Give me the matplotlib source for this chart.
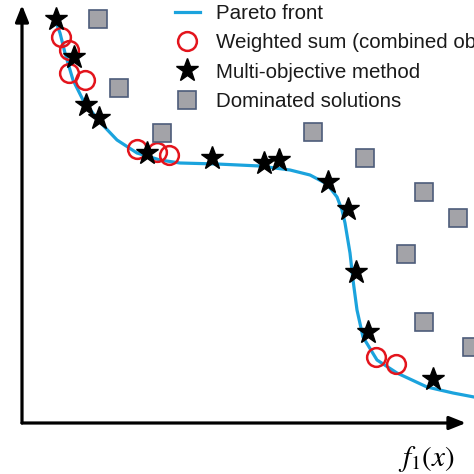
import matplotlib.pyplot as plt

plt.rcParams['font.family'] = ['Liberation Sans', 'DejaVu Sans']
plt.rcParams['mathtext.fontset'] = 'stix'

# Pareto front (f1, f2)
front_f1 = [3.5, 3.8, 4.3, 5.1, 6.1, 7.6, 9.5, 11.5, 13.8, 15.8, 19.5, 23.8, 26.8, 28.8,
            30.5, 31.5, 32.0, 32.3, 32.8, 33.1, 33.5, 34.1, 35.5, 37.5, 40.5, 43.1, 45.2, 46.8]
front_f2 = [39.8, 39.0, 37.0, 34.3, 32.3, 30.3, 28.3, 27.0, 26.3, 26.0, 25.9, 25.7, 25.3, 24.8,
            23.9, 22.6, 21.3, 20.0, 17.0, 14.3, 11.3, 8.6, 6.3, 5.0, 3.6, 3.0, 2.6, 2.4]

# weighted sum solutions
ws_f1 = [3.9, 4.7, 4.7, 6.3, 11.5, 13.5, 14.7, 35.4, 37.4]
ws_f2 = [38.6, 37.3, 35.0, 34.3, 27.4, 27.1, 26.8, 6.6, 5.9]

# multi-objective method solutions
mo_f1 = [3.4, 5.2, 6.4, 7.7, 12.5, 19.0, 24.2, 25.7, 30.6, 32.6, 33.4, 34.6, 41.1]
mo_f2 = [40.4, 36.6, 31.8, 30.5, 27.0, 26.5, 26.0, 26.3, 24.1, 21.4, 15.1, 9.1, 4.4]

# dominated solutions
dom_f1 = [7.6, 9.7, 14.0, 29.1, 34.3, 40.2, 43.6, 38.4, 40.2, 45.0]
dom_f2 = [40.4, 33.5, 29.0, 29.1, 26.5, 23.1, 20.5, 16.9, 10.1, 7.6]

fig = plt.figure(figsize=(4.74, 4.74), dpi=100)
ax = fig.add_axes([0, 0, 1, 1])
ax.set_xlim(-2.2, 45.2)
ax.set_ylim(-5.1, 42.3)
ax.axis('off')

# axes as arrows
arrow = dict(arrowstyle='-|>,head_length=0.55,head_width=0.22', lw=2.3, color='black',
             mutation_scale=18, shrinkA=0, shrinkB=0)
ax.annotate('', xy=(0, 41.8), xytext=(0, 0), arrowprops=arrow)
ax.annotate('', xy=(44.4, 0), xytext=(0, 0), arrowprops=arrow)
ax.text(40.4, -3.6, r'$f_1(x)$', fontsize=21, ha='center', va='center')

ax.plot(front_f1, front_f2, color='#1ba3dd', lw=2.3, solid_joinstyle='round',
        label='Pareto front', zorder=2)
ax.plot(ws_f1, ws_f2, 'o', ms=13.5, mfc='none', mec='#e3141c', mew=1.8,
        label='Weighted sum (combined objective)', zorder=3)
ax.plot(mo_f1, mo_f2, '*', ms=17, color='black', label='Multi-objective method', zorder=4)
ax.plot(dom_f1, dom_f2, 's', ms=13, mfc='#a3a3a8', mec='#4d5c7a', mew=1.2,
        label='Dominated solutions', zorder=3)

ax.legend(loc='upper left', bbox_to_anchor=(175 / 474, 1 - 4 / 474), frameon=False,
          fontsize=14.8, borderpad=0, borderaxespad=0, handlelength=1.2,
          handletextpad=0.8, labelspacing=0.5, labelcolor='#1a1a1a')

fig.savefig('out.png', dpi=100)
